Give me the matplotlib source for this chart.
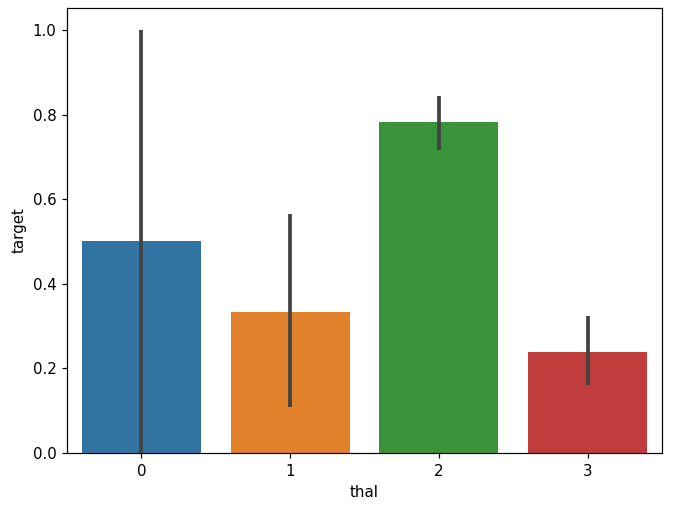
import matplotlib
matplotlib.use("Agg")
import matplotlib.pyplot as plt

# thal categories and mean target with 95% CI bounds
thal = ["0", "1", "2", "3"]
target_mean = [0.5, 0.333, 0.783, 0.239]
ci_low = [0.0, 0.109, 0.716, 0.161]
ci_high = [1.0, 0.565, 0.844, 0.324]
colors = ["#3274a1", "#e1812c", "#3a923a", "#c03d3e"]

s = 1.083  # reference looks upscaled from a 640px-wide figure
plt.rcParams.update({
    "font.size": 10 * s,
    "xtick.major.size": 3.5 * s,
    "ytick.major.size": 3.5 * s,
    "xtick.major.pad": 3.5 * s,
    "ytick.major.pad": 3.5 * s,
    "axes.labelpad": 4 * s,
    "axes.linewidth": 0.8 * s,
    "xtick.major.width": 0.8 * s,
    "ytick.major.width": 0.8 * s,
})

fig = plt.figure(figsize=(6.93, 5.08), dpi=100)
ax = fig.add_axes([67 / 693, 55 / 508, 595 / 693, 445 / 508])

pos = range(len(thal))
ax.bar(pos, target_mean, width=0.8, color=colors)
ax.vlines(pos, ci_low, ci_high, color="#424242", linewidth=2.7)

ax.set_xticks(list(pos))
ax.set_xticklabels(thal)
ax.set_xlim(-0.5, 3.5)
ax.set_ylim(0, 1.052)
ax.set_xlabel("thal")
ax.set_ylabel("target")

fig.savefig("out.png", dpi=100)
